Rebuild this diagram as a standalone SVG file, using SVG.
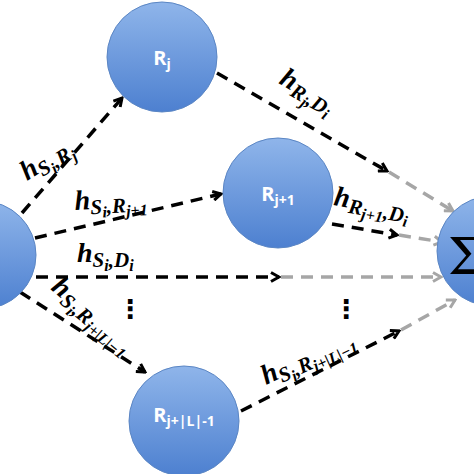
<svg xmlns="http://www.w3.org/2000/svg" width="474" height="474" viewBox="0 0 474 474">
<defs>
<linearGradient id="blue" x1="0" y1="0" x2="0" y2="1">
<stop offset="0" stop-color="#8fb5ea"/>
<stop offset="1" stop-color="#4d80d0"/>
</linearGradient>
<marker id="ab" viewBox="0 0 12 12" refX="10" refY="6" markerWidth="12" markerHeight="12" markerUnits="userSpaceOnUse" orient="auto">
<path d="M2,1.5 L10,6 L2,10.5" fill="none" stroke="#000" stroke-width="3"/>
</marker>
<marker id="ag" viewBox="0 0 12 12" refX="10" refY="6" markerWidth="12" markerHeight="12" markerUnits="userSpaceOnUse" orient="auto">
<path d="M2,1.5 L10,6 L2,10.5" fill="none" stroke="#a6a6a6" stroke-width="3"/>
</marker>
</defs>
<style>
.node{fill:url(#blue);stroke:#5b86c4;stroke-width:1}
.nt{font-family:"Open Sans","Liberation Sans",sans-serif;font-weight:700;fill:#fff;font-size:20px}
.nt .sb{font-size:14px}
.bk{fill:none;stroke:#000;stroke-width:3.5;stroke-dasharray:12 8;marker-end:url(#ab)}
.gr{fill:none;stroke:#a6a6a6;stroke-width:3.5;stroke-dasharray:12 8;marker-end:url(#ag)}
.lb{font-family:"Liberation Serif","DejaVu Serif",serif;font-weight:bold;font-style:italic;fill:#000}
.h{font-size:28px}
.s{font-size:21px}
.ss{font-size:16px}
.dots{font-family:"DejaVu Sans",sans-serif;font-weight:bold;font-size:26px;fill:#000}
</style>
<g id="connectors">
<line class="bk" x1="22" y1="213" x2="122" y2="98"/>
<line class="bk" x1="35" y1="238" x2="221" y2="194"/>
<line class="bk" x1="36" y1="277" x2="279" y2="277"/>
<line class="gr" x1="281" y1="277" x2="441" y2="277"/>
<line class="bk" x1="20" y1="292" x2="145" y2="372"/>
<line class="bk" x1="217" y1="73" x2="387" y2="171"/>
<line class="gr" x1="389" y1="172" x2="453" y2="211"/>
<line class="bk" x1="332" y1="224" x2="397" y2="235"/>
<line class="gr" x1="399" y1="235" x2="442" y2="242"/>
<line class="bk" x1="241" y1="411" x2="399" y2="331"/>
<line class="gr" x1="401" y1="330" x2="455" y2="300"/>
</g>
<g id="node-S">
<circle class="node" cx="-18" cy="255" r="54"/>
</g>
<g id="node-Rj">
<circle class="node" cx="162" cy="57" r="55"/>
<text class="nt" x="162" y="65" text-anchor="middle">R<tspan class="sb" dy="4">j</tspan></text>
</g>
<g id="node-Rj1">
<circle class="node" cx="278" cy="193" r="55"/>
<text class="nt" x="278" y="201" text-anchor="middle">R<tspan class="sb" dy="4">j+1</tspan></text>
</g>
<g id="node-RjL">
<circle class="node" cx="184" cy="421" r="55"/>
<text class="nt" x="184" y="422" text-anchor="middle">R<tspan class="sb" dy="4">j+|L|-1</tspan></text>
</g>
<g id="node-Sum">
<circle class="node" cx="492" cy="251" r="55"/>
<text x="448" y="274" font-family="DejaVu Serif, serif" font-size="50" fill="#000">Σ</text>
</g>
<g id="labels">
<text class="lb" transform="translate(27,181) rotate(-32)"><tspan class="h">h</tspan><tspan class="s" dy="5">S</tspan><tspan class="ss" dy="4">i</tspan><tspan class="s" dy="-4">,R</tspan><tspan class="ss" dy="4">j</tspan></text>
<text class="lb" transform="translate(75,210) rotate(-3)"><tspan class="h">h</tspan><tspan class="s" dy="5">S</tspan><tspan class="ss" dy="4">i</tspan><tspan class="s" dy="-4">,R</tspan><tspan class="ss" dy="4">j+1</tspan></text>
<text class="lb" x="77" y="262"><tspan class="h">h</tspan><tspan class="s" dy="5">S</tspan><tspan class="ss" dy="4">i</tspan><tspan class="s" dy="-4">,D</tspan><tspan class="ss" dy="4">i</tspan></text>
<text class="lb" transform="translate(50,289) rotate(40)"><tspan class="h">h</tspan><tspan class="s" dy="5">S</tspan><tspan class="ss" dy="4">i</tspan><tspan class="s" dy="-4">,R</tspan><tspan class="ss" dy="4">j+|L|−1</tspan></text>
<text class="lb" transform="translate(278,83) rotate(30)"><tspan class="h">h</tspan><tspan class="s" dy="5">R</tspan><tspan class="ss" dy="4">j</tspan><tspan class="s" dy="-4">,D</tspan><tspan class="ss" dy="4">i</tspan></text>
<text class="lb" transform="translate(333,205) rotate(10)"><tspan class="h">h</tspan><tspan class="s" dy="5">R</tspan><tspan class="ss" dy="4">j+1</tspan><tspan class="s" dy="-4">,D</tspan><tspan class="ss" dy="4">i</tspan></text>
<text class="lb" transform="translate(266,385) rotate(-25)"><tspan class="h">h</tspan><tspan class="s" dy="5">S</tspan><tspan class="ss" dy="4">i</tspan><tspan class="s" dy="-4">,R</tspan><tspan class="ss" dy="4">j+|L|−1</tspan></text>
<text class="dots" x="130" y="318" text-anchor="middle">⋮</text>
<text class="dots" x="346" y="318" text-anchor="middle">⋮</text>
</g>
</svg>
